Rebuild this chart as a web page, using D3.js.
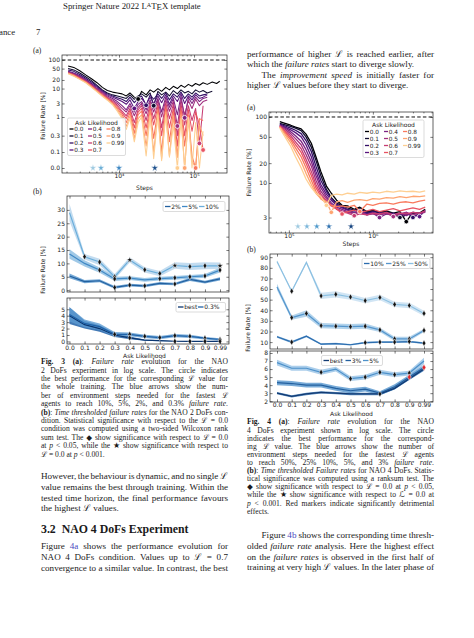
<!DOCTYPE html>
<html><head><meta charset="utf-8">
<script src="https://cdn.jsdelivr.net/npm/d3@7"></script>
<style>html,body{margin:0;padding:0;background:#fff;}svg{display:block}</style>
</head><body>
<svg id="page" width="474" height="638" xmlns="http://www.w3.org/2000/svg"></svg>
<script>
// ================= DATA =================
const askLevels = ["0.0","0.1","0.2","0.3","0.4","0.5","0.6","0.7","0.8","0.9","0.99"];

// Fig 3a : failure rate (%) vs environment steps, NAO 2 DoFs
const steps3a = [2100,2500,3000,3600,4300,5100,6000,7000,8200,9500,11000,12500,14000,16000,18000,20000,23000,26000,29000,33000,37000,42000,47000,53000,60000,67000,75000,84000,94000,105000,118000,132000,150000,175000,200000,220000];
const f3a_00 = [62,55,42,30,22,16,11,8.5,7.5,7,6.5,5.5,7,5,4.3,8,6,9,7.5,10,8,11,9,12,10,13,11,14,12,15,13,16,14,17,15,18];
const f3a_01 = [50,45,35,26,19,13,9,7,6,5.5,5,4.5,6,4.2,5.5,6.5,5,7,2.5,8,6,7.5,5.5,8.5,6.5,9,7,8,6.5,9,7.5,8.5,7,8];
const f3a_02 = [45,40,31,23,17,12,8.5,6.5,5.5,4.8,4.2,3.5,5,3.2,4.5,5.5,2.6,6,4.2,6.5,4.5,7,4,6.5,5,7.5,4.5,6.5,5,7,5.5,6,6.5];
const f3a_03 = [40,35,28,21,15,11,8,6,5,4.2,3.5,2.8,4,2.0,3.5,4.5,2.8,5,3,5.5,3.2,6,2.8,5.5,3.5,6.5,3,5.5,4,6,4.5,5,6];
const f3a_04 = [38,33,26,20,14,10,7.5,5.5,4.5,3.5,2.5,1.8,3,1.5,2.8,3.5,1.8,4,2,4.5,1.5,5,2.2,4.5,1.2,5.5,0.95,4.8,3,5,3.5,4.5,5];
const f3a_05 = [37,32,25,19,13.5,9.5,7,5,4,3,2,1.5,2.5,1.1,2.2,3,1.3,3.5,1.5,3.8,1,4,1.6,3.5,0.56,4,1.2,3.8,2,4.2,2.5,3.5,4];
const f3a_06 = [36,31,24,18,13,9,6.5,4.8,3.6,2.6,1.6,1.1,2,0.7,1.8,2.5,0.8,2.8,0.9,3,0.5,3.2,0.9,2.8,0.3,3,0.6,2.5,0.8,2,0.18,2.5];
const f3a_07 = [35,30,23,17.5,12.5,8.5,6,4.5,3.3,2.3,1.4,0.9,1.7,0.5,1.5,2,0.5,2.2,0.6,2.4,0.3,2.5,0.5,2,0.15,2.2,0.3,1.8,0.4,1.5,0.6,0.115];
const f3a_08 = [35,29,22,17,12,8.2,5.8,4.3,3.1,2,1.2,0.7,1.4,0.35,1.2,1.6,0.3,1.7,0.25,1.8,0.1,1.9,0.2,1.5,0.04,1.6,0.15,1.2,0.05,0,0.9,0.8];
const f3a_09 = [34,28,21.5,16.5,11.5,8,5.6,4.1,2.9,1.8,1,0.55,1.1,0.25,0.9,1.2,0.15,1.3,0.1,1.4,0.03,1.5,0.05,1.1,0.04,1.2,0,0.9,0.02,0,0.6,0.3];
const f3a_099 = [33,27,21,16,11,7.6,5.3,3.9,2.7,1.6,0.9,0.45,0.9,0.2,0.7,1,0.05,1.1,0.03,1.2,0.02,1.2,0.04,0.6,0,0.9,0,1,0,0.7,0,0.4];
const arrowSteps3a = [4500, 5750, 10000, 30000];   // first agent reaching 10%,5%,2%,0.3%
const arrowValue3a = 0;
const yTicks3a = [0, 0.1, 0.3, 1, 3, 10, 20, 50, 100];
const xTicks3a = [10000, 100000];
const xMinor3a = [2000,3000,4000,5000,6000,7000,8000,9000,20000,30000,40000,50000,60000,70000,80000,90000,200000];

// Fig 3b : time thresholded failure rates (NAO 2 DoFs)
const f3b_10 = [29.0,12.5,10.5,5.0,11.3,7.6,6.2,9.2,8.8,9.1,9.1];
const e3b_10 = [3.2,1.0,1.2,1.0,1.0,1.0,1.0,1.2,1.3,1.3,1.2];
const s3b_10 = [0,1,1,1,2,1,1,2,1,1,2];
const f3b_5  = [13.5,10.0,7.5,4.2,4.5,3.8,4.3,4.6,5.0,5.3,7.5];
const e3b_5  = [1.8,1.2,1.0,0.8,0.7,0.7,0.7,0.7,0.7,0.7,0.9];
const s3b_5  = [0,0,1,1,1,0,1,1,1,1,1];
const f3b_2  = [5.3,3.2,3.5,1.0,1.9,1.6,2.5,2.3,4.0,3.0,4.2];
const e3b_2  = [0.9,0.6,0.6,0.5,0.5,0.5,0.5,0.5,0.6,0.5,0.6];
const s3b_2  = [0,0,0,1,1,1,0,1,0,0,0];
const f3b_best = [4.0,2.6,2.0,1.0,0.55,0.2,0.12,0.03,0.02,0.02,0.02];
const e3b_best = [1.3,0.6,0.5,0.3,0.2,0.1,0.08,0.05,0.05,0.05,0.05];
const s3b_best = [0,0,0,0,1,0,0,1,1,1,1];
const f3b_03 = [4.2,2.8,2.3,1.1,1.1,0.8,0.6,0.9,0.8,0.5,0.3];
const e3b_03 = [1.1,0.6,0.5,0.35,0.3,0.25,0.25,0.25,0.25,0.2,0.2];
const s3b_03 = [0,0,0,1,1,1,1,1,1,1,1];
const yTicks3bTop = [0,5,10,15,20,25,30];
const yTicks3bBot = [0,1,2,3,4,5];

// Fig 4a : failure rate (%) vs environment steps, NAO 4 DoFs
const steps4a = [78000,90000,105000,120000,140000,160000,185000,210000,240000,280000,320000,370000,430000,500000,600000,700000,850000,1000000,1200000,1450000,1750000,2100000,2500000,3000000,3600000,4200000];
const f4a_00 = [85,80,75,70,66,55,40,25,15,9,7,5.5,4.6,4.5,4.0,4.3,3.7,3.9,3.6,3.8,3.5,3.7,2.6,3.6,3.5,4.0];
const f4a_01 = [80,76,72,68,62,50,35,22,13,8,6,5,4.5,4.2,3.9,4.1,3.6,3.8,3.5,3.7,3.4,3.0,3.3,3.5,3.4,3.8];
const f4a_02 = [78,73,68,63,56,44,30,18,11,7.5,5.8,4.8,4.3,4.0,3.8,4.0,3.5,3.7,3.6,3.4,3.5,3.3,3.6,3.0,3.5,3.7];
const f4a_03 = [76,70,64,58,50,38,25,15,9.5,6.8,5.5,4.6,4.2,3.9,3.6,3.8,3.4,3.6,3.3,3.5,3.4,3.2,3.4,3.3,3.1,3.9];
const f4a_04 = [75,68,60,52,43,32,21,13,8.5,6.2,5.0,4.3,4.0,3.7,3.5,3.7,3.3,3.5,3.0,3.4,3.3,3.5,3.2,3.6,3.4,3.7];
const f4a_05 = [74,65,56,47,38,27,18,11,7.5,5.8,4.7,4.1,3.8,3.6,3.4,3.6,3.3,3.4,3.3,3.5,3.1,3.4,3.6,3.3,3.5,3.6];
const f4a_06 = [73,62,52,42,33,23,15,9.5,6.8,5.4,4.6,4.0,3.7,3.5,3.2,3.4,3.3,3.5,3.4,3.6,3.3,3.5,3.4,3.6,3.5,3.8];
const f4a_07 = [72,60,48,38,29,20,13,8.5,6.3,5.2,4.5,4.1,3.4,3.7,3.9,3.6,3.8,4.0,3.7,3.9,4.1,3.8,4.0,4.2,4.0,4.3];
const f4a_08 = [71,57,45,34,25,17,11,7.5,5.8,5.0,4.6,4.4,4.5,4.3,4.6,3.7,4.8,4.6,4.9,5.0,4.8,5.1,5.2,5.0,5.3,5.5];
const f4a_09 = [70,54,41,30,21,14,9.5,7,5.8,5.2,3.6,5.2,5.4,5.1,5.5,5.6,5.4,5.8,5.7,6.0,5.9,6.2,6.0,6.3,6.2,6.4];
const f4a_099 = [68,50,36,25,17,11.5,8.5,7,6.3,4.6,6.5,6.8,6.6,7.0,6.8,7.2,7.0,7.3,7.1,7.5,7.3,7.6,7.4,7.5,7.3,7.6];
const arrowSteps4a = [128000, 164000, 215000, 300000, 550000]; // 50%,25%,10%,5%,3%
const arrowValue4a = 2.2;
const yTicks4a = [3, 10, 20, 50, 100];
const xTicks4a = [100000, 1000000];
const xMinor4a = [60000,70000,80000,90000,200000,300000,400000,500000,600000,700000,800000,900000,2000000,3000000,4000000,5000000];

// Fig 4b : time thresholded failure rates (NAO 4 DoFs)
const f4b_50 = [86,58,85,53.5,55,52.5,49,52,45.5,44.5,37];
const e4b_50 = [1.2,1.2,1.2,3,3,2.5,2.5,2.5,2.5,2.5,2.5];
const s4b_50 = [0,1,0,1,1,1,1,1,1,1,1];
const f4b_25 = [62,33,37,25.5,25,24.5,25,21.5,13,13,21];
const e4b_25 = [3,2,3,2.5,2.5,2.5,2.5,2,2,2,1.5];
const s4b_25 = [0,1,1,1,1,1,1,1,1,1,1];
const f4b_10 = [15,10,15.5,8,8.5,7.5,9.5,10,10,10.5,9];
const e4b_10 = [1,1,1,0.8,0.8,0.8,0.8,0.8,0.8,0.8,0.8];
const s4b_10 = [0,1,0,0,0,0,1,1,1,1,1];
const f4b_5 = [6.8,6.1,6.1,5.6,6.0,4.8,5.0,5.6,5.3,5.5,7.0];
const e4b_5 = [0.35,0.3,0.3,0.3,0.3,0.3,0.3,0.3,0.3,0.3,0.4];
const s4b_5 = [0,0,0,1,0,1,1,1,1,1,0];
const f4b_3 = [4.3,4.2,4.0,4.0,3.6,3.3,3.5,3.0,3.8,5.0,6.2];
const e4b_3 = [0.3,0.3,0.3,0.3,0.3,0.3,0.3,0.25,0.3,0.3,0.35];
const s4b_3 = [0,0,0,0,0,0,0,0,0,3,3];
const f4b_best = [3.0,2.6,2.9,3.1,3.0,2.9,2.9,2.9,3.6,4.8,6.0];
const e4b_best = [0.15,0.15,0.15,0.15,0.15,0.15,0.15,0.15,0.15,0.15,0.2];
const s4b_best = [0,0,0,0,0,0,0,1,0,0,0];
const yTicks4bTop = [10,20,30,40,50,60,70,80,90];
const yTicks4bBot = [2,3,4,5,6,7,8];

// ================= DRAWING =================
const SERIF = "'Liberation Serif','DejaVu Serif',serif";
const SANS = "'DejaVu Sans','Liberation Sans',sans-serif";
const svg = d3.select("#page");
svg.append("rect").attr("width", 474).attr("height", 638).attr("fill", "#fff");
const askColors = askLevels.map((d, i) => d3.interpolateMagma(i * 0.09));

// ---------- text helpers ----------
function richLine(x, y, w, str, fs, justify) {
  const t = svg.append("text").attr("x", x).attr("y", y)
    .attr("font-family", SERIF).attr("font-size", fs).attr("fill", "#1a1a1a");
  const parts = str.split(/(\*\*[^*]+\*\*|\*[^*]+\*|\[[^\]]+\])/).filter(s => s.length);
  parts.forEach(p => {
    const ts = t.append("tspan");
    if (p.startsWith("**")) ts.attr("font-weight", "bold").text(p.slice(2, -2));
    else if (p.startsWith("*")) ts.attr("font-style", "italic").text(p.slice(1, -1));
    else if (p.startsWith("[")) ts.attr("fill", "#4a4ac0").text(p.slice(1, -1));
    else ts.text(p);
  });
  const nat = t.node().getComputedTextLength();
  const content = t.text();
  const n = (content.match(/ /g) || []).length;
  if (justify && n > 0) {
    let ws = (w - nat) / n;
    const minWs = -0.12 * fs;
    if (ws < minWs) {
      const rest = w - nat - n * minWs;
      t.style("letter-spacing", (rest / content.length) + "px");
      ws = minWs;
    }
    t.style("word-spacing", ws + "px");
  } else if (nat > w) {
    t.style("letter-spacing", ((w - nat) / content.length) + "px");
  }
  return t;
}
function block(lines, x, y0, dy, fs, w) {
  lines.forEach((raw, i) => {
    let s = raw, indent = 0, just = true;
    if (s.startsWith(">")) { s = s.slice(1); indent = fs * 1.6; }
    if (s.endsWith("|")) { s = s.slice(0, -1); just = false; }
    richLine(x + indent, y0 + i * dy, w - indent, s, fs, just);
  });
}

// ---------- page header ----------
{
  const h = svg.append("text").attr("x", 63).attr("y", 8.5)
    .attr("font-family", SERIF).attr("font-size", 8.8).attr("fill", "#222");
  h.append("tspan").text("Springer Nature 2022 L");
  h.append("tspan").attr("font-size", 6).attr("dy", -2).text("A");
  h.append("tspan").attr("dy", 2).text("T");
  h.append("tspan").attr("dy", 1.6).text("E");
  h.append("tspan").attr("dy", -1.6).text("X template");
  svg.append("text").attr("x", -1).attr("y", 35).attr("font-family", SERIF).attr("font-size", 8.8).attr("fill", "#222").text("ance");
  svg.append("text").attr("x", 36).attr("y", 35).attr("font-family", SERIF).attr("font-size", 8.8).attr("fill", "#222").text("7");
}

// ---------- axes helpers ----------
function styleAxis(sel, fs) {
  sel.select(".domain").remove();
  sel.selectAll("line").attr("stroke", "#222").attr("stroke-width", 0.6);
  sel.selectAll("text").attr("font-size", fs || 6).attr("font-family", SANS).attr("fill", "#222");
}
function frame(X0, X1, Y0, Y1) {
  svg.append("rect").attr("x", X0).attr("y", Y0).attr("width", X1 - X0).attr("height", Y1 - Y0)
    .attr("fill", "none").attr("stroke", "#222").attr("stroke-width", 0.7);
}
function xAxes(x, X0, X1, Y0, Y1, ticks, fmt, minor, pad) {
  svg.append("g").attr("transform", `translate(0,${Y1})`)
    .call(d3.axisBottom(x).tickValues(ticks).tickSizeInner(-2.6).tickSizeOuter(0).tickPadding(pad).tickFormat(fmt || ""))
    .call(s => styleAxis(s));
  svg.append("g").attr("transform", `translate(0,${Y0})`)
    .call(d3.axisTop(x).tickValues(ticks).tickSizeInner(-2.6).tickSizeOuter(0).tickFormat(""))
    .call(s => styleAxis(s));
  if (minor) {
    svg.append("g").attr("transform", `translate(0,${Y1})`)
      .call(d3.axisBottom(x).tickValues(minor).tickSizeInner(-1.4).tickSizeOuter(0).tickFormat(""))
      .call(s => styleAxis(s));
    svg.append("g").attr("transform", `translate(0,${Y0})`)
      .call(d3.axisTop(x).tickValues(minor).tickSizeInner(-1.4).tickSizeOuter(0).tickFormat(""))
      .call(s => styleAxis(s));
  }
}
function yAxes(y, X0, X1, ticks, fmt) {
  svg.append("g").attr("transform", `translate(${X0},0)`)
    .call(d3.axisLeft(y).tickValues(ticks).tickSizeInner(-2.6).tickSizeOuter(0).tickPadding(2).tickFormat(fmt))
    .call(s => styleAxis(s));
  svg.append("g").attr("transform", `translate(${X1},0)`)
    .call(d3.axisRight(y).tickValues(ticks).tickSizeInner(-2.6).tickSizeOuter(0).tickFormat(""))
    .call(s => styleAxis(s));
}
function label(x, y, txt, rot, fs) {
  const t = svg.append("text").attr("text-anchor", "middle").attr("font-family", SANS)
    .attr("font-size", fs || 6).attr("fill", "#222").text(txt);
  if (rot) t.attr("transform", `translate(${x},${y}) rotate(-90)`);
  else t.attr("x", x).attr("y", y);
}
function panelTag(x, y, txt) {
  svg.append("text").attr("x", x).attr("y", y).attr("font-family", SERIF).attr("font-size", 7.5).attr("fill", "#222").text(txt);
}
function clip(id, X0, X1, Y0, Y1) {
  svg.append("clipPath").attr("id", id).append("rect").attr("x", X0).attr("y", Y0).attr("width", X1 - X0).attr("height", Y1 - Y0);
  return svg.append("g").attr("clip-path", `url(#${id})`);
}
function legendBox(x, y, w, h) {
  svg.append("rect").attr("x", x).attr("y", y).attr("width", w).attr("height", h).attr("rx", 1.5)
    .attr("fill", "#fff").attr("fill-opacity", 0.85).attr("stroke", "#c4c4c4").attr("stroke-width", 0.6);
}
function legendItem(x, y, color, txt, hl, fs) {
  svg.append("line").attr("x1", x).attr("x2", x + hl).attr("y1", y).attr("y2", y).attr("stroke", color).attr("stroke-width", 1.3);
  svg.append("text").attr("x", x + hl + 0.8).attr("y", y + 2).attr("font-family", SANS).attr("font-size", fs || 5.8).attr("fill", "#222").text(txt);
}
const supDigits = {"4":"\u2074","5":"\u2075","6":"\u2076"};
const logFmt = d => "10" + supDigits[String(Math.round(Math.log10(d)))];
const sigSymbols = {1: d3.symbol().type(d3.symbolDiamond).size(11), 2: d3.symbol().type(d3.symbolStar).size(12), 3: d3.symbol().type(d3.symbolDiamond).size(12)};
function sigMarkers(g, x, y, vals, sigs) {
  vals.forEach((v, i) => {
    if (!sigs[i]) return;
    g.append("path").attr("d", sigSymbols[sigs[i]]())
      .attr("transform", `translate(${x(askLevels[i])},${y(v)})`)
      .attr("fill", sigs[i] === 3 ? "#e0262b" : "#111").attr("stroke", "#fff").attr("stroke-width", 0.5);
  });
}
function bandSeries(g, x, y, vals, errs, lineColor, bandColor, bandOpacity) {
  const rows = d3.zip(askLevels, vals, errs);
  g.append("path").attr("d", d3.area().x(d => x(d[0])).y0(d => y(d[1] - d[2])).y1(d => y(d[1] + d[2]))(rows))
    .attr("fill", bandColor).attr("fill-opacity", bandOpacity);
  return () => g.append("path").attr("d", d3.line().x(d => x(d[0])).y(d => y(d[1]))(rows))
    .attr("fill", "none").attr("stroke", lineColor).attr("stroke-width", 1.2);
}
const star = d3.symbol().type(d3.symbolStar).size(15);
const arrowColors3a = ["#9ecae1", "#6baed6", "#3c86c2", "#1b4f8c"];
const arrowColors4a = ["#9ecae1", "#7bb6da", "#4f99cb", "#2f72b0", "#14427e"];

// ================= FIG 3a =================
{
  const X0 = 62, X1 = 227, Y0 = 55, Y1 = 173;
  const x = d3.scaleLog().domain([1740, 275000]).range([X0, X1]);
  const y = d3.scaleSymlog().constant(0.01).domain([0, 0.1, 1, 100]).range([168, 152, 117, 60]);
  const series = [f3a_00, f3a_01, f3a_02, f3a_03, f3a_04, f3a_05, f3a_06, f3a_07, f3a_08, f3a_09, f3a_099];
  panelTag(33, 53, "(a)");
  const g = clip("c3a", X0, X1, Y0, Y1);
  g.append("line").attr("x1", X0).attr("x2", X1).attr("y1", y(100)).attr("y2", y(100))
    .attr("stroke", "#111").attr("stroke-width", 1).attr("stroke-dasharray", "3.5,2.2");
  const line = d3.line().x(d => x(d[0])).y(d => y(d[1]));
  series.forEach((vals, k) => {
    g.append("path").attr("d", line(d3.zip(steps3a, vals))).attr("fill", "none")
      .attr("stroke", askColors[k]).attr("stroke-width", 1.05).attr("stroke-linejoin", "round");
  });
  series.forEach((vals, k) => {
    const i = d3.minIndex(vals);
    g.append("circle").attr("cx", x(steps3a[i])).attr("cy", y(vals[i])).attr("r", 2.4)
      .attr("fill", askColors[k]).attr("stroke", "#fff").attr("stroke-width", 0.8);
  });
  arrowSteps3a.forEach((s, i) => {
    g.append("path").attr("d", star()).attr("transform", `translate(${x(s)},${y(arrowValue3a)})`)
      .attr("fill", arrowColors3a[i]).attr("stroke", "#fff").attr("stroke-width", 0.4);
  });
  xAxes(x, X0, X1, Y0, Y1, xTicks3a, logFmt, xMinor3a, 1.2);
  yAxes(y, X0, X1, yTicks3a, d => d === 0 ? "0.0" : (d < 1 ? d.toFixed(1) : String(d)));
  frame(X0, X1, Y0, Y1);
  label(144.5, 189.5, "Steps");
  label(45, 116, "Failure Rate [%]", true);
  legendBox(67.5, 118, 58, 37.5);
  label(96.5, 124.5, "Ask Likelihood", false, 6);
  const colX = [69.5, 88, 106.5], rowY = [129, 136, 143, 150];
  askLevels.forEach((lv, k) => {
    const c = Math.floor(k / 4), r = k % 4;
    legendItem(colX[c], rowY[r], askColors[k], lv, 4, 5.8);
  });
}

// ================= FIG 3b =================
{
  const X0 = 67, X1 = 229, YT0 = 196, YT1 = 292, YB0 = 298, YB1 = 344;
  const x = d3.scalePoint().domain(askLevels).range([69.5, 220]);
  const yT = d3.scaleLinear().domain([-0.7, 35.2]).range([YT1, YT0]);
  const yB = d3.scaleLinear().domain([-0.4, 6.75]).range([YB1, YB0]);
  panelTag(33, 194, "(b)");
  const gT = clip("c3bt", X0, X1, YT0, YT1);
  const l10 = bandSeries(gT, x, yT, f3b_10, e3b_10, "#6aaedb", "#bcd8ee", 0.9);
  const l5 = bandSeries(gT, x, yT, f3b_5, e3b_5, "#4089c6", "#8fbfe3", 0.85);
  const l2 = bandSeries(gT, x, yT, f3b_2, e3b_2, "#22609f", "#5f9bd0", 0.85);
  l10(); l5(); l2();
  sigMarkers(gT, x, yT, f3b_10, s3b_10);
  sigMarkers(gT, x, yT, f3b_5, s3b_5);
  sigMarkers(gT, x, yT, f3b_2, s3b_2);
  xAxes(x, X0, X1, YT0, YT1, askLevels, "", null, 1);
  yAxes(yT, X0, X1, yTicks3bTop, d => String(d));
  frame(X0, X1, YT0, YT1);
  legendBox(163, 201.5, 62, 10);
  legendItem(165, 206.5, "#22609f", "2%", 5.5, 6);
  legendItem(182, 206.5, "#4089c6", "5%", 5.5, 6);
  legendItem(199, 206.5, "#6aaedb", "10%", 5.5, 6);

  const gB = clip("c3bb", X0, X1, YB0, YB1);
  const lb = bandSeries(gB, x, yB, f3b_best, e3b_best, "#0b3670", "#2f6cae", 0.9);
  const l03 = bandSeries(gB, x, yB, f3b_03, e3b_03, "#1f62a8", "#5d9bd2", 0.8);
  lb(); l03();
  sigMarkers(gB, x, yB, f3b_03, s3b_03);
  sigMarkers(gB, x, yB, f3b_best, s3b_best);
  xAxes(x, X0, X1, YB0, YB1, askLevels, d => d, null, 1.3);
  yAxes(yB, X0, X1, yTicks3bBot, d => String(d));
  frame(X0, X1, YB0, YB1);
  legendBox(176, 302.5, 49.5, 9.5);
  legendItem(178, 307, "#0b3670", "best", 5.5, 6);
  legendItem(198, 307, "#1f62a8", "0.3%", 5.5, 6);
  label(144.5, 357.5, "Ask Likelihood");
  label(45, 270, "Failure Rate [%]", true);
}

// ================= FIG 4a =================
{
  const X0 = 269, X1 = 433, Y0 = 112, Y1 = 233;
  const x = d3.scaleLog().domain([58000, 5200000]).range([X0, X1]);
  const y = d3.scaleLog().domain([1.75, 119]).range([Y1, Y0]);
  const series = [f4a_00, f4a_01, f4a_02, f4a_03, f4a_04, f4a_05, f4a_06, f4a_07, f4a_08, f4a_09, f4a_099];
  panelTag(247, 110, "(a)");
  const g = clip("c4a", X0, X1, Y0, Y1);
  g.append("line").attr("x1", X0).attr("x2", X1).attr("y1", y(100)).attr("y2", y(100))
    .attr("stroke", "#111").attr("stroke-width", 1).attr("stroke-dasharray", "3.5,2.2");
  const line = d3.line().x(d => x(d[0])).y(d => y(d[1]));
  series.forEach((vals, k) => {
    g.append("path").attr("d", line(d3.zip(steps4a, vals))).attr("fill", "none")
      .attr("stroke", askColors[k]).attr("stroke-width", 1.3).attr("stroke-linejoin", "round");
  });
  series.forEach((vals, k) => {
    const i = d3.minIndex(vals);
    g.append("circle").attr("cx", x(steps4a[i])).attr("cy", y(vals[i])).attr("r", 2.3)
      .attr("fill", askColors[k]).attr("stroke", "#fff").attr("stroke-width", 0.8);
  });
  arrowSteps4a.forEach((s, i) => {
    g.append("path").attr("d", star()).attr("transform", `translate(${x(s)},${y(arrowValue4a)})`)
      .attr("fill", arrowColors4a[i]).attr("stroke", "#fff").attr("stroke-width", 0.4);
  });
  xAxes(x, X0, X1, Y0, Y1, xTicks4a, logFmt, xMinor4a, 1.2);
  yAxes(y, X0, X1, yTicks4a, d => String(d));
  frame(X0, X1, Y0, Y1);
  label(351, 246, "Steps");
  label(251, 172.5, "Failure Rate [%]", true);
  legendBox(363, 120, 61, 37.5);
  label(393.5, 126.5, "Ask Likelihood", false, 6);
  const colX = [365, 384, 403], rowY = [131.5, 138.5, 145.5, 152.5];
  askLevels.forEach((lv, k) => {
    const c = Math.floor(k / 4), r = k % 4;
    legendItem(colX[c], rowY[r], askColors[k], lv, 4, 5.8);
  });
}

// ================= FIG 4b =================
{
  const X0 = 270, X1 = 433, YT0 = 254, YT1 = 349, YB0 = 351, YB1 = 402;
  const x = d3.scalePoint().domain(askLevels).range([277, 424]);
  const yT = d3.scaleLinear().domain([3.5, 93]).range([YT1, YT0]);
  const yB = d3.scaleLinear().domain([1.9, 8.25]).range([YB1, YB0]);
  panelTag(247, 252, "(b)");
  const gT = clip("c4bt", X0, X1, YT0, YT1);
  const l50 = bandSeries(gT, x, yT, f4b_50, e4b_50, "#8bc0e2", "#cce2f3", 0.9);
  const l25 = bandSeries(gT, x, yT, f4b_25, e4b_25, "#5596cd", "#a5cbe9", 0.85);
  const l10 = bandSeries(gT, x, yT, f4b_10, e4b_10, "#2b6cae", "#78acd9", 0.85);
  l50(); l25(); l10();
  sigMarkers(gT, x, yT, f4b_50, s4b_50);
  sigMarkers(gT, x, yT, f4b_25, s4b_25);
  sigMarkers(gT, x, yT, f4b_10, s4b_10);
  xAxes(x, X0, X1, YT0, YT1, askLevels, "", null, 1);
  yAxes(yT, X0, X1, yTicks4bTop, d => String(d));
  frame(X0, X1, YT0, YT1);
  legendBox(362, 258.5, 68, 10);
  legendItem(364, 263.5, "#2b6cae", "10%", 5.5, 6);
  legendItem(386, 263.5, "#5596cd", "25%", 5.5, 6);
  legendItem(408, 263.5, "#8bc0e2", "50%", 5.5, 6);

  const gB = clip("c4bb", X0, X1, YB0, YB1);
  const l5 = bandSeries(gB, x, yB, f4b_5, e4b_5, "#4d91ca", "#9cc6e7", 0.85);
  const l3 = bandSeries(gB, x, yB, f4b_3, e4b_3, "#23609f", "#5f9bd0", 0.85);
  const lb = bandSeries(gB, x, yB, f4b_best, e4b_best, "#123a72", "#3a75b3", 0.85);
  l5(); l3(); lb();
  sigMarkers(gB, x, yB, f4b_5, s4b_5);
  sigMarkers(gB, x, yB, f4b_3, s4b_3);
  sigMarkers(gB, x, yB, f4b_best, s4b_best);
  xAxes(x, X0, X1, YB0, YB1, askLevels, d => d, null, 1.2);
  yAxes(yB, X0, X1, yTicks4bBot, d => String(d));
  frame(X0, X1, YB0, YB1);
  legendBox(321.5, 355.5, 61, 10);
  legendItem(323.5, 360.5, "#123a72", "best", 5.5, 6);
  legendItem(345.5, 360.5, "#23609f", "3%", 5.5, 6);
  legendItem(363, 360.5, "#4d91ca", "5%", 5.5, 6);
  label(351.5, 415.5, "Ask Likelihood");
  label(250, 328, "Failure Rate [%]", true);
}

// ================= TEXT BLOCKS =================
const CAP = 7.6, BODY = 9.1;
block([
  "**Fig. 3** **(a)**: *Failure rate* evolution for the NAO",
  "2 DoFs experiment in log scale. The circle indicates",
  "the best performance for the corresponding ℒ value for",
  "the whole training. The blue arrows show the num-",
  "ber of environment steps needed for the fastest ℒ",
  "agents to reach 10%, 5%, 2%, and 0.3% *failure rate*.",
  "**(b)**: *Time thresholded failure rates* for the NAO 2 DoFs con-",
  "dition. Statistical significance with respect to the ℒ = 0.0",
  "condition was computed using a two-sided Wilcoxon rank",
  "sum test. The ◆ show significance with respect to ℒ = 0.0",
  "at *p* < 0.05, while the ★ show significance with respect to",
  "ℒ = 0.0 at *p* < 0.001.|"
], 41, 364.2, 8.4, CAP, 187);

block([
  "However, the behaviour is dynamic, and no single ℒ",
  "value remains the best through training. Within the",
  "tested time horizon, the final performance favours",
  "the highest ℒ values.|"
], 41, 479.2, 10.67, BODY, 187);

svg.append("text").attr("x", 41).attr("y", 533).attr("font-family", SERIF).attr("font-size", 11.8)
  .attr("font-weight", "bold").attr("fill", "#1a1a1a").text("3.2\u2002NAO 4 DoFs Experiment");

block([
  "Figure [4a] shows the performance evolution for",
  "NAO 4 DoFs condition. Values up to ℒ = 0.7",
  "convergence to a similar value. In contrast, the best"
], 41, 549.2, 10.67, BODY, 187);

block([
  "performance of higher ℒ is reached earlier, after",
  "which the *failure rates* start to diverge slowly.|",
  ">The *improvement speed* is initially faster for",
  "higher ℒ values before they start to diverge.|"
], 247, 57.2, 10.2, BODY, 187);

block([
  "**Fig. 4** **(a)**: *Failure rate* evolution for the NAO",
  "4 DoFs experiment shown in log scale. The circle",
  "indicates the best performance for the correspond-",
  "ing ℒ value. The blue arrows show the number of",
  "environment steps needed for the fastest ℒ agents",
  "to reach 50%, 25% 10%, 5%, and 3% *failure rate*.",
  "**(b)**: *Time thresholded Failure rates* for NAO 4 DoFs. Statis-",
  "tical significance was computed using a ranksum test. The",
  "◆ show significance with respect to ℒ = 0.0 at *p* < 0.05,",
  "while the ★ show significance with respect to ℒ = 0.0 at",
  "*p* < 0.001. Red markers indicate significantly detrimental",
  "effects.|"
], 247, 424.4, 8.12, CAP, 187);

block([
  ">Figure [4b] shows the corresponding time thresh-",
  "olded *failure rate* analysis. Here the highest effect",
  "on the *failure rates* is observed in the first half of",
  "training at very high ℒ values. In the later phase of"
], 247, 538.2, 10.67, BODY, 187);
</script>
</body></html>
